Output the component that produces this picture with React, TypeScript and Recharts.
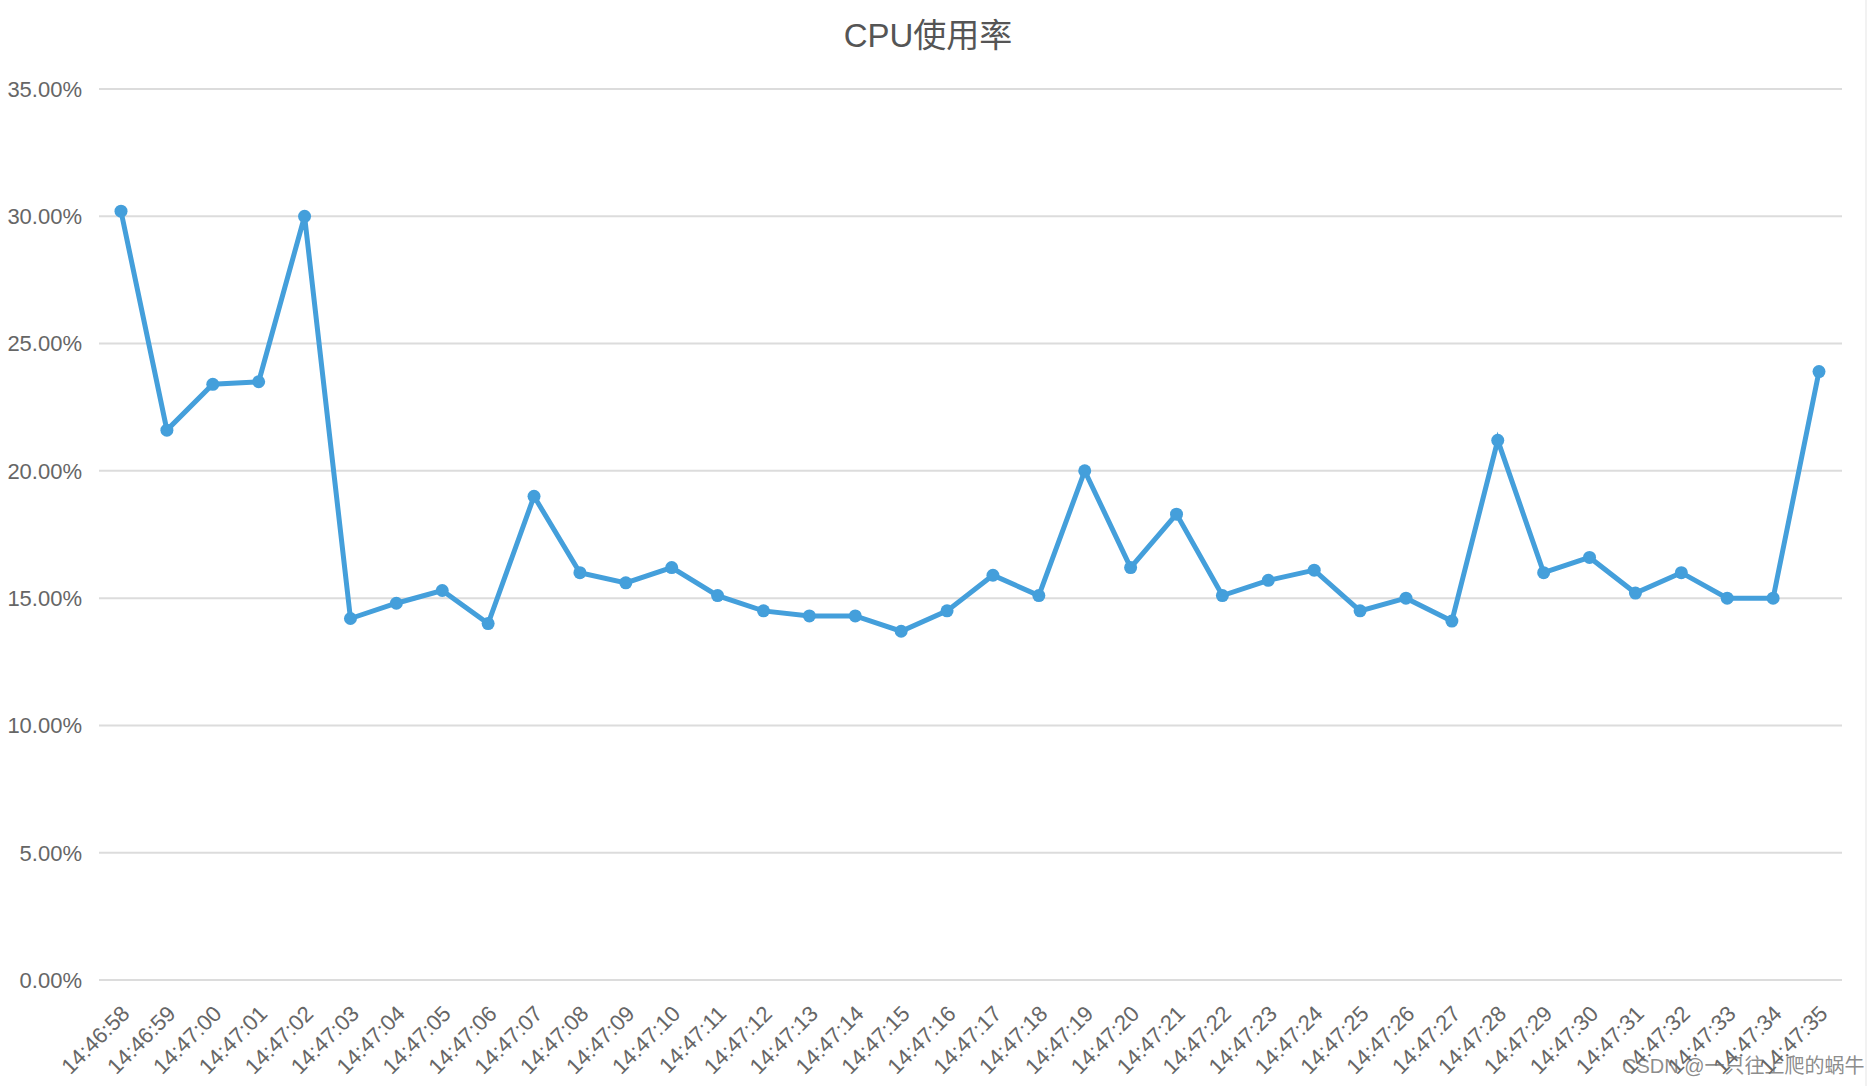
import React from 'react';
import { LineChart, Line, XAxis, YAxis, CartesianGrid } from 'recharts';

const times = [
  '14:46:58', '14:46:59', '14:47:00', '14:47:01', '14:47:02', '14:47:03', '14:47:04', '14:47:05',
  '14:47:06', '14:47:07', '14:47:08', '14:47:09', '14:47:10', '14:47:11', '14:47:12', '14:47:13',
  '14:47:14', '14:47:15', '14:47:16', '14:47:17', '14:47:18', '14:47:19', '14:47:20', '14:47:21',
  '14:47:22', '14:47:23', '14:47:24', '14:47:25', '14:47:26', '14:47:27', '14:47:28', '14:47:29',
  '14:47:30', '14:47:31', '14:47:32', '14:47:33', '14:47:34', '14:47:35',
];

// CPU usage in percent
const cpuValues = [
  30.2, 21.6, 23.4, 23.5, 30.0, 14.2, 14.8, 15.3,
  14.0, 19.0, 16.0, 15.6, 16.2, 15.1, 14.5, 14.3,
  14.3, 13.7, 14.5, 15.9, 15.1, 20.0, 16.2, 18.3,
  15.1, 15.7, 16.1, 14.5, 15.0, 14.1, 21.2, 16.0,
  16.6, 15.2, 16.0, 15.0, 15.0, 23.9,
];

const yTicks = [0, 5, 10, 15, 20, 25, 30, 35];

const data = times.map((t, i) => ({ name: t, value: cpuValues[i] }));

const FONT = '"Liberation Sans", Arial, "Noto Sans CJK SC", sans-serif';
const LINE_COLOR = '#449fdb';

const TimeTick = (props: any) => {
  const { x, y, payload } = props;
  return (
    <g transform={`translate(${x + 10},${y + 35})`}>
      <text
        x={0}
        y={0}
        textAnchor="end"
        transform="rotate(-45)"
        fill="#666"
        fontSize={22}
        fontFamily={FONT}
      >
        {payload.value}
      </text>
    </g>
  );
};

export default function App() {
  return (
    <div
      style={{
        position: 'absolute',
        left: 0,
        top: 0,
        width: 1868,
        height: 1086,
        background: '#fff',
        fontFamily: FONT,
        overflow: 'hidden',
      }}
    >
      <div
        style={{
          position: 'absolute',
          left: 0,
          top: 19,
          width: 1856,
          textAlign: 'center',
          fontSize: 33,
          lineHeight: '33px',
          color: '#555',
        }}
      >
        CPU使用率
      </div>
      <LineChart
        width={1868}
        height={1086}
        data={data}
        margin={{ top: 89, right: 26, left: 0, bottom: 0 }}
      >
        <CartesianGrid vertical={false} stroke="#dcdcdc" strokeWidth={2} />
        <XAxis
          dataKey="name"
          height={106}
          interval={0}
          axisLine={false}
          tickLine={false}
          tickSize={0}
          tickMargin={0}
          padding={{ left: 22, right: 23 }}
          tick={<TimeTick />}
        />
        <YAxis
          width={99}
          domain={[0, 35]}
          ticks={yTicks}
          axisLine={false}
          tickLine={false}
          tickSize={0}
          tickMargin={17}
          tickFormatter={(v: number) => `${v.toFixed(2)}%`}
          tick={{ fill: '#666', fontSize: 22, fontFamily: FONT }}
        />
        <Line
          type="linear"
          dataKey="value"
          stroke={LINE_COLOR}
          strokeWidth={5}
          dot={{ r: 6.5, fill: LINE_COLOR, stroke: 'none' }}
          activeDot={false}
          isAnimationActive={false}
        />
      </LineChart>
      <div
        style={{
          position: 'absolute',
          left: 1622,
          top: 1056,
          fontSize: 20,
          lineHeight: '20px',
          color: 'rgba(110,110,110,0.8)',
          whiteSpace: 'nowrap',
        }}
      >
        CSDN @一只往上爬的蜗牛
      </div>
      <div
        style={{
          position: 'absolute',
          left: 1865,
          top: 0,
          width: 2,
          height: 1086,
          background: '#f2f2f2',
        }}
      />
    </div>
  );
}
